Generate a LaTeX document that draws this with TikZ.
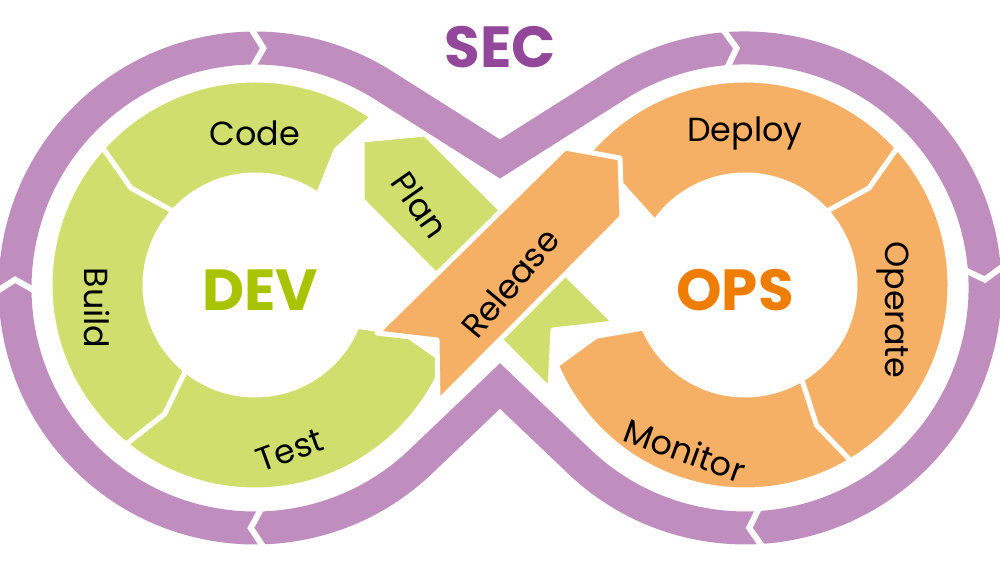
\documentclass[tikz,border=0pt]{standalone}
\usepackage{fontspec}
\setmainfont{Poppins}
\usepackage{tikz}
\usetikzlibrary{positioning}

\definecolor{secband}{HTML}{C08DBF}
\definecolor{sectext}{HTML}{93479A}
\definecolor{devband}{HTML}{D0DE6E}
\definecolor{devtext}{HTML}{A8C400}
\definecolor{opsband}{HTML}{F5B066}
\definecolor{opstext}{HTML}{EE7D00}

% ring piece: start angle, end angle, inner r, outer r, tip offset
\newcommand{\ringseg}[5]{(#1:#4) arc[start angle=#1,end angle=#2,radius=#4] -- ({#2+#5}:{(#3+#4)/2}) -- (#2:#3) arc[start angle=#2,end angle=#1,radius=#3] -- ({#1+#5}:{(#3+#4)/2}) -- cycle}

\tikzset{
  piece/.style={draw=white, line width=0.1cm, line join=round},
  steplabel/.style={font=\fontsize{19}{20}\selectfont, text=black},
  biglabel/.style={font=\fontsize{33}{34}\selectfont\bfseries}
}

\begin{document}
\begin{tikzpicture}[x=0.02cm,y=0.02cm]
    \useasboundingbox (0,0) rectangle (1000,564);

    % outer SEC band
    \draw[secband, line width=0.66cm, line join=miter] (500,405) -- (616.8,478.9)
        arc[start angle=122.3,end angle=-133.6,radius=240] -- (500,178) -- (420.5,102.2)
        arc[start angle=-46.4,end angle=-302.3,radius=240] -- cycle;
    \begin{scope}[shift={(255,276)}]
      \foreach \a in {88,178,269}
        \draw[white, line width=0.12cm] (\a+4:212) -- (\a:240) -- (\a+4:268);
    \end{scope}
    \begin{scope}[shift={(745,276)}]
      \foreach \a in {92,2,271}
        \draw[white, line width=0.12cm] (\a+4:212) -- (\a:240) -- (\a+4:268);
    \end{scope}

    % DEV ring
    \begin{scope}[shift={(255,279)}]
      \filldraw[piece, fill=devband] \ringseg{55}{138}{110}{205}{4};
      \filldraw[piece, fill=devband] \ringseg{138}{231}{110}{205}{4};
      \filldraw[piece, fill=devband] \ringseg{231}{338}{110}{205}{4};
    \end{scope}
    % Plan band
    \filldraw[piece, fill=devband] (362,424) -- (425,430) -- (615,241) -- (553,234) -- (550,174) -- (362,364) -- cycle;

    % OPS ring
    \begin{scope}[shift={(745,279)}]
      \filldraw[piece, fill=opsband] \ringseg{145}{42}{110}{205}{-4};
      \filldraw[piece, fill=opsband] \ringseg{42}{-59}{110}{205}{-4};
      \filldraw[piece, fill=opsband] \ringseg{-59}{-157}{110}{205}{-4};
    \end{scope}
    % Release band
    \filldraw[piece, fill=opsband] (377,231) -- (565,416) -- (620,406) -- (622,347) -- (438,162) -- (437,224) -- cycle;

    % labels
    \node[biglabel, text=sectext] (sec) at (500,517) {SEC};
    \node[biglabel, text=devtext] (dev) at (260,274) {DEV};
    \node[biglabel, text=opstext] (ops) at (735,274) {OPS};
    \node[steplabel] (code) at (255,431) {Code};
    \node[steplabel, rotate=-55] (plan) at (420,359) {Plan};
    \node[steplabel, rotate=-90] (build) at (97,256) {Build};
    \node[steplabel, rotate=20] (test) at (290,114) {Test};
    \node[steplabel, rotate=50] (release) at (510,281) {Release};
    \node[steplabel] (deploy) at (745,431) {Deploy};
    \node[steplabel, rotate=-90] (operate) at (893,254) {Operate};
    \node[steplabel, rotate=-20] (monitor) at (685,114) {Monitor};

\end{tikzpicture}
\end{document}
